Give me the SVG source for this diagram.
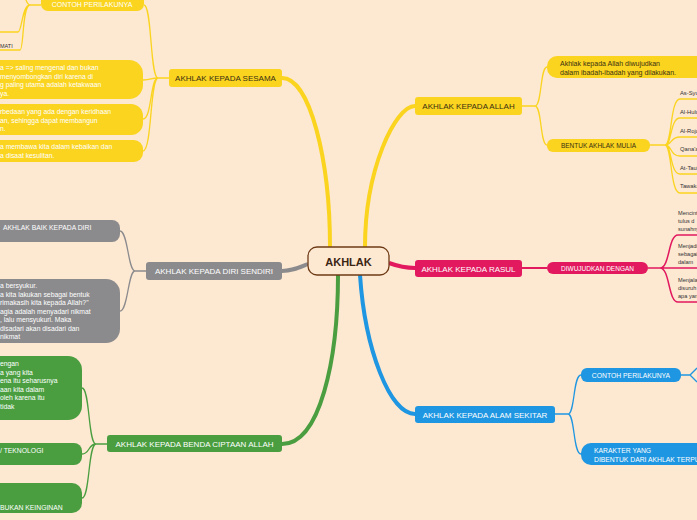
<svg xmlns="http://www.w3.org/2000/svg" width="697" height="520" viewBox="0 0 697 520">
<style>
text{font-family:"Liberation Sans",Arial,sans-serif;}
.y{fill:#fad41f}.p{fill:#e2195e}.g{fill:#8b8b8d}.gr{fill:#4a9e40}.b{fill:#1e96e1}
.dk{fill:#3b2f12}.wh{fill:#fff}
.cy{stroke:#fad41f;fill:none}.cp{stroke:#e2195e;fill:none}.cg{stroke:#8b8b8d;fill:none}.cgr{stroke:#4a9e40;fill:none}.cb{stroke:#1e96e1;fill:none}
</style>
<rect width="697" height="520" fill="#fde8d2"/>
<g id="connectors" stroke-width="1.3">
<path class="cy" d="M330 247 C330 160 310 78 282 78" stroke-width="4"/>
<path class="cy" d="M365 247 C365 170 395 106 415 106" stroke-width="4"/>
<path class="cp" d="M389 263 C400 267 405 268 415 268" stroke-width="4"/>
<path class="cg" d="M308 264 C298 268 292 271 282 271" stroke-width="4"/>
<path class="cgr" d="M338 275 C338 360 320 444 282 444" stroke-width="4"/>
<path class="cb" d="M360 275 C365 350 390 414 415 414" stroke-width="4"/>
<path class="cy" d="M169 78 H158 C150 78 152 5 144 5"/>
<path class="cy" d="M158 78 C150 78 152 80 143 80"/>
<path class="cy" d="M158 78 C150 78 152 119 143 119"/>
<path class="cy" d="M158 78 C150 78 152 151 143 151"/>
<path class="cy" d="M41 5 H30 C26 5 26 -5 22 -5 M30 5 C22 5 22 32 18 32 H0 M30 5 C22 5 24 50 20 50 H0"/>
<path class="cy" d="M522 106 H535 C542 106 540 67 547 67 M535 106 C542 106 540 145 547 145"/>
<path class="cy" d="M650 145 H665 C672 145 670 99 680 99 H697 M665 145 C672 145 670 118 680 118 H697 M665 145 C672 145 670 137 680 137 H697 M665 145 C672 145 670 156 680 156 H697 M665 145 C672 145 670 174 680 174 H697 M665 145 C672 145 670 193 680 193 H697"/>
<path class="cp" d="M522 268 H547" stroke-width="2"/>
<path class="cp" d="M648 268 H660 C670 268 668 235 678 235 H697 M660 268 C670 268 668 268 678 268 H697 M660 268 C670 268 668 302 678 302 H697" stroke-width="1.5"/>
<path class="cg" d="M146 271 H135 C128 271 128 231 120 231 M135 271 C128 271 128 311 120 311"/>
<path class="cgr" d="M107 444 H96 C88 444 90 388 82 388 M96 444 C88 444 90 454 82 454 M96 444 C88 444 90 498 82 498"/>
<path class="cb" d="M555 414 H568 C575 414 573 375 581 375 M568 414 C575 414 573 454 581 454"/>
<path class="cb" d="M681 375 H690 L697 368 M690 375 L697 382"/>
</g>
<g id="center"><rect x="308" y="247" width="81" height="28" rx="9" fill="#fde8d2" stroke="#6e3b16" stroke-width="1.3"/><text x="348.5" y="265.5" text-anchor="middle" font-size="11" font-weight="bold" fill="#3b2412">AKHLAK</text></g>
<g id="sesama"><rect x="169" y="69" width="113" height="18" rx="3" class="y"/><text x="225.5" y="81.3" text-anchor="middle" font-size="8" class="dk">AKHLAK KEPADA SESAMA</text></g>
<g id="sesama-contoh"><rect x="41" y="-6" width="103" height="17" rx="7" class="y"/><text x="92" y="7" text-anchor="middle" font-size="7" class="wh">CONTOH PERILAKUNYA</text></g>
<g id="sesama-mati"><text x="0" y="47.5" font-size="5.5" fill="#333">MATI</text></g>
<g id="sesama-1"><rect x="-20" y="60" width="163" height="39" rx="14" class="y"/><text font-size="6.8" class="wh"><tspan x="0" y="70">a => saling mengenal dan bukan</tspan><tspan x="0" y="78.5">menyombongkan diri karena di</tspan><tspan x="0" y="87">g paling utama adalah ketakwaan</tspan><tspan x="0" y="95.5">ya.</tspan></text></g>
<g id="sesama-2"><rect x="-20" y="104" width="163" height="31" rx="12" class="y"/><text font-size="6.8" class="wh"><tspan x="0" y="114">rbedaan yang ada dengan keridhaan</tspan><tspan x="0" y="122.5">an, sehingga dapat membangun</tspan><tspan x="0" y="131">n.</tspan></text></g>
<g id="sesama-3"><rect x="-20" y="140" width="163" height="22" rx="9" class="y"/><text font-size="6.8" class="wh"><tspan x="0" y="149">a membawa kita dalam kebaikan dan</tspan><tspan x="0" y="157.5">a disaat kesulitan.</tspan></text></g>
<g id="allah"><rect x="415" y="97" width="107" height="18" rx="3" class="y"/><text x="468.5" y="109.3" text-anchor="middle" font-size="8" class="dk">AKHLAK KEPADA ALLAH</text></g>
<g id="allah-1"><rect x="547" y="56" width="160" height="22" rx="10" class="y"/><text font-size="7" class="dk"><tspan x="560" y="65.5">Akhlak kepada Allah diwujudkan</tspan><tspan x="560" y="74.5">dalam ibadah-ibadah yang dilakukan.</tspan></text></g>
<g id="bentuk"><rect x="547" y="139" width="103" height="13" rx="6" class="y"/><text x="598.5" y="148" text-anchor="middle" font-size="6.5" class="dk">BENTUK AKHLAK MULIA</text></g>
<g id="bentuk-leaves" font-size="5.8" fill="#333"><text x="680" y="95">As-Syukur</text><text x="680" y="113.5">Al-Huluq</text><text x="680" y="132.5">Al-Roja'</text><text x="680" y="151">Qana'ah</text><text x="680" y="169.5">At-Taubah</text><text x="680" y="188">Tawakal</text></g>
<g id="rasul"><rect x="415" y="260" width="107" height="17" rx="3" class="p"/><text x="468.5" y="271.8" text-anchor="middle" font-size="8" class="wh">AKHLAK KEPADA RASUL</text></g>
<g id="diwujudkan"><rect x="547" y="262" width="101" height="12" rx="6" class="p"/><text x="597.5" y="270.8" text-anchor="middle" font-size="6.5" class="wh">DIWUJUDKAN DENGAN</text></g>
<g id="rasul-leaves" font-size="5.6" fill="#333"><text x="678" y="215">Mencintai</text><text x="678" y="223">tulus d</text><text x="678" y="231">sunahnya</text><text x="678" y="248">Menjadikan</text><text x="678" y="256">sebagai</text><text x="678" y="264">dalam</text><text x="678" y="282">Menjalankan</text><text x="678" y="290">disuruh</text><text x="678" y="298">apa yang</text></g>
<g id="diri"><rect x="146" y="262" width="136" height="18" rx="3" class="g"/><text x="214" y="274.3" text-anchor="middle" font-size="8" class="wh">AKHLAK KEPADA DIRI SENDIRI</text></g>
<g id="diri-1"><rect x="-20" y="220" width="140" height="22" rx="8" class="g"/><text x="3" y="229.5" font-size="6.8" class="wh">AKHLAK BAIK KEPADA DIRI</text></g>
<g id="diri-2"><rect x="-20" y="279" width="140" height="64" rx="14" class="g"/><text font-size="6.8" class="wh"><tspan x="0" y="288">a bersyukur.</tspan><tspan x="0" y="296.5">a kita lakukan sebagai bentuk</tspan><tspan x="0" y="305">rimakasih kita kepada Allah?"</tspan><tspan x="0" y="313.5">agia adalah menyadari nikmat</tspan><tspan x="0" y="322">, lalu mensyukuri. Maka</tspan><tspan x="0" y="330.5">disadari akan disadari dan</tspan><tspan x="0" y="339">nikmat</tspan></text></g>
<g id="benda"><rect x="107" y="435" width="175" height="17" rx="3" class="gr"/><text x="194.5" y="446.8" text-anchor="middle" font-size="8" class="wh">AKHLAK KEPADA BENDA CIPTAAN ALLAH</text></g>
<g id="benda-1"><rect x="-20" y="356" width="102" height="64" rx="14" class="gr"/><text font-size="6.8" class="wh"><tspan x="0" y="366">engan</tspan><tspan x="0" y="374.5">a yang kita</tspan><tspan x="0" y="383">ena itu seharusnya</tspan><tspan x="0" y="391.5">aan kita dalam</tspan><tspan x="0" y="400">oleh karena itu</tspan><tspan x="0" y="408.5">tidak</tspan></text></g>
<g id="benda-2"><rect x="-20" y="443" width="102" height="22" rx="8" class="gr"/><text x="0" y="452.5" font-size="6.8" class="wh">/ TEKNOLOGI</text></g>
<g id="benda-3"><rect x="-20" y="483" width="102" height="30" rx="10" class="gr"/><text x="0" y="509.5" font-size="6.8" class="wh">BUKAN KEINGINAN</text></g>
<g id="alam"><rect x="415" y="406" width="140" height="17" rx="3" class="b"/><text x="485" y="417.8" text-anchor="middle" font-size="8" class="wh">AKHLAK KEPADA ALAM SEKITAR</text></g>
<g id="alam-contoh"><rect x="581" y="368" width="100" height="14" rx="6" class="b"/><text x="631" y="378" text-anchor="middle" font-size="6.8" class="wh">CONTOH PERILAKUNYA</text></g>
<g id="alam-karakter"><rect x="581" y="443" width="130" height="22" rx="10" class="b"/><text font-size="6.8" class="wh"><tspan x="594" y="452.5">KARAKTER YANG</tspan><tspan x="594" y="461.5">DIBENTUK DARI AKHLAK TERPUJI</tspan></text></g>
</svg>
